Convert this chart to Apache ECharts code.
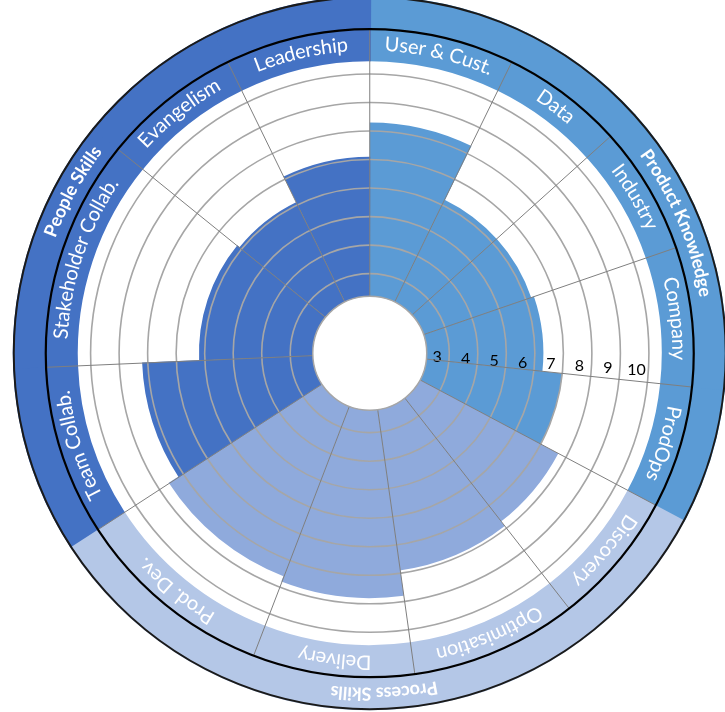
<!DOCTYPE html>
<html><head><meta charset="utf-8">
<script src="https://cdn.jsdelivr.net/npm/echarts@6/dist/echarts.min.js"></script>
<style>html,body{margin:0;padding:0;background:#fff}#c{width:725px;height:712px}</style>
</head><body><div id="c"></div>
<script>
const categories = ['User & Cust.','Data','Industry','Company','ProdOps','Discovery','Optimisation','Delivery','Prod. Dev.','Team Collab.','Stakeholder Collab.','Evangelism','Leadership'];
const groupOf = [0,0,0,0,0,1,1,1,1,2,2,2,2];
const groups = ['Product Knowledge','Process Skills','People Skills'];
const boundaries = [0,26,48,71,96,118,142,172,201,237,267.5,309,334,360];
const values = [8.3,6.2,6.2,6.3,7.0,7.7,7.9,8.8,8.6,8.2,6.2,6.1,7.1];
const ringTicks = [3,4,5,6,7,8,9,10];

const barColors = ['#5B9BD5','#8FAADC','#4472C4'];
const bandColors = ['#5B9BD5','#B4C7E7','#4472C4'];
const FONT = 'Lato, "Open Sans", sans-serif';
const mctx = document.createElement('canvas').getContext('2d');
function measure(t, size, weight){ mctx.font = (weight||'normal')+' '+size+'px '+FONT; return mctx.measureText(t).width; }
const rad = d => (d-90)*Math.PI/180;
function pt(cx,cy,r,th){ const a=th*Math.PI/180; return [cx+r*Math.sin(a), cy-r*Math.cos(a)]; }
function curvedText(cx,cy,r,thc,text,size,weight){
  const W = measure(text,size,weight); const total = W/r*180/Math.PI;
  let acc = 0; const out=[];
  for (const ch of text){
    const cw = measure(ch,size,weight);
    const th = thc - total/2 + (acc + cw/2)/r*180/Math.PI;
    acc += cw;
    const p = pt(cx,cy,r,th);
    out.push({type:'text', x:p[0], y:p[1], rotation:-th*Math.PI/180,
      style:{text:ch, fill:'#fff', fontSize:size, fontWeight:weight||'normal', fontFamily:FONT, align:'center', verticalAlign:'middle'}});
  }
  return out;
}
const chart = echarts.init(document.getElementById('c'));
const barData = values.map((v,i)=>[v, boundaries[i], boundaries[i+1], groupOf[i]]);
const catData = categories.map((c,i)=>[i]);
function rOf(api,cs,v,th){ const p=api.coord([v,th]); return Math.hypot(p[0]-cs.cx,p[1]-cs.cy); }

chart.setOption({
  animation:false,
  polar:{center:['51%','49.6%'], radius:[51,292]},
  angleAxis:{type:'value', min:0, max:360, startAngle:90, clockwise:true, axisLine:{show:false}, axisTick:{show:false}, axisLabel:{show:false}, splitLine:{show:false}},
  radiusAxis:{type:'value', min:2, max:10.45, axisLine:{show:false}, axisTick:{show:false}, axisLabel:{show:false}, splitLine:{show:false}},
  series:[
    { // outer bands + category labels
      type:'custom', coordinateSystem:'polar', z:1, data:catData,
      renderItem:(params,api)=>{
        const cs=params.coordSys, i=api.value(0), g=groupOf[i];
        const R=cs.r, r1=R+32, r2=R+65;
        const s=boundaries[i], e=boundaries[i+1];
        const ch=[
          {type:'sector', shape:{cx:cs.cx,cy:cs.cy,r0:R,r:r2,startAngle:rad(s),endAngle:rad(e)+0.004,clockwise:true}, style:{fill:bandColors[g]}}
        ];
        ch.push(...curvedText(cs.cx,cs.cy,(R+r1)/2+1,(s+e)/2,categories[i],20,'normal'));
        return {type:'group', children:ch};
      }
    },
    { // bars
      type:'custom', coordinateSystem:'polar', z:2, data:barData,
      renderItem:(params,api)=>{
        const cs=params.coordSys;
        const s=api.value(1), e=api.value(2);
        const r=rOf(api,cs,api.value(0),(s+e)/2), r0=rOf(api,cs,2,(s+e)/2);
        return {type:'sector', shape:{cx:cs.cx,cy:cs.cy,r0:r0,r:r,startAngle:rad(s),endAngle:rad(e)+0.003,clockwise:true}, style:{fill:barColors[api.value(3)]}};
      }
    },
    { // rings + radial labels
      type:'custom', coordinateSystem:'polar', z:3, data:ringTicks.map(v=>[v]),
      renderItem:(params,api)=>{
        const cs=params.coordSys, v=api.value(0);
        const r=rOf(api,cs,v,90);
        const p=pt(cs.cx,cs.cy,r-12,93.5);
        return {type:'group', children:[
          {type:'circle', shape:{cx:cs.cx,cy:cs.cy,r:r}, style:{fill:'none',stroke:'#A6A6A6',lineWidth:1.6}},
          {type:'text', x:p[0], y:p[1], z2:5, style:{text:String(v), fill:'#000', fontSize:16, fontFamily:FONT, align:'center', verticalAlign:'middle'}}
        ]};
      }
    },
    { // spokes
      type:'custom', coordinateSystem:'polar', z:4, data:catData,
      renderItem:(params,api)=>{
        const cs=params.coordSys, th=boundaries[api.value(0)];
        const a=pt(cs.cx,cs.cy,cs.r0,th), b=pt(cs.cx,cs.cy,cs.r+32,th);
        return {type:'line', shape:{x1:a[0],y1:a[1],x2:b[0],y2:b[1]}, style:{stroke:'#7F7F7F',lineWidth:1}};
      }
    },
    { // hole, outline circles, group labels
      type:'custom', coordinateSystem:'polar', z:5, data:[[0]],
      renderItem:(params,api)=>{
        const cs=params.coordSys, R=cs.r, r1=R+32, r2=R+65;
        const ch=[
          {type:'circle', shape:{cx:cs.cx,cy:cs.cy,r:cs.r0+6}, style:{fill:'#fff',stroke:'#A6A6A6',lineWidth:1.5}},
          {type:'circle', shape:{cx:cs.cx,cy:cs.cy,r:r1}, style:{fill:'none',stroke:'#000',lineWidth:2.2}},
          {type:'circle', shape:{cx:cs.cx,cy:cs.cy,r:r2-1}, style:{fill:'none',stroke:'#1a1a1a',lineWidth:2}}
        ];
        groups.forEach((gn,gi)=>{
          const idx=groupOf.map((x,k)=>x===gi?k:-1).filter(k=>k>=0);
          const gs=boundaries[idx[0]], ge=boundaries[idx[idx.length-1]+1];
          const mid = gi===0 ? (gs+ge)/2+8 : (gs+ge)/2;
          ch.push(...curvedText(cs.cx,cs.cy,(r1+r2)/2,mid,gn,18,'bold'));
        });
        return {type:'group', children:ch};
      }
    }
  ]
});
</script></body></html>
